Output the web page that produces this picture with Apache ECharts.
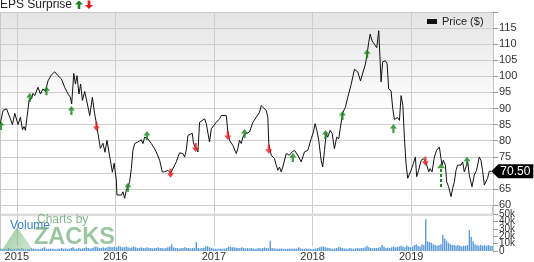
<!DOCTYPE html>
<html><head><meta charset="utf-8">
<script src="https://cdn.jsdelivr.net/npm/echarts@6/dist/echarts.min.js"></script>
<style>html,body{margin:0;padding:0;background:#fff}#c{width:534px;height:262px}</style>
</head><body><div id="c"></div>
<script>
// ---- data (x in decimal years) ----
const yearTicks = [2015, 2016, 2017, 2018, 2019];
const xMin = 2014.83, xMax = 2019.83;
const priceYears = [
2014.828,2014.861,2014.896,2014.929,2014.956,2014.980,2015.013,2015.037,2015.058,2015.074,
2015.088,2015.104,2015.125,2015.149,2015.165,2015.182,2015.216,2015.240,2015.266,2015.291,
2015.317,2015.352,2015.385,2015.418,2015.453,2015.486,2015.520,2015.544,2015.557,2015.578,
2015.595,2015.611,2015.631,2015.648,2015.666,2015.689,2015.716,2015.740,2015.767,2015.790,
2015.808,2015.824,2015.848,2015.874,2015.895,2015.915,2015.949,2015.970,2015.988,2016.010,
2016.016,2016.036,2016.061,2016.077,2016.094,2016.111,2016.145,2016.162,2016.178,2016.196,
2016.213,2016.229,2016.246,2016.263,2016.280,2016.297,2016.314,2016.330,2016.365,2016.398,
2016.415,2016.449,2016.476,2016.500,2016.533,2016.560,2016.584,2016.618,2016.634,2016.652,
2016.685,2016.702,2016.719,2016.736,2016.753,2016.780,2016.793,2016.811,2016.827,2016.837,
2016.854,2016.871,2016.905,2016.922,2016.955,2016.973,2016.989,2017.023,2017.057,2017.074,
2017.090,2017.125,2017.141,2017.158,2017.192,2017.226,2017.242,2017.259,2017.277,2017.293,
2017.310,2017.327,2017.361,2017.394,2017.429,2017.462,2017.479,2017.496,2017.530,2017.546,
2017.556,2017.581,2017.614,2017.631,2017.648,2017.665,2017.682,2017.698,2017.733,2017.766,
2017.793,2017.817,2017.834,2017.850,2017.885,2017.918,2017.952,2017.986,2018.009,2018.026,
2018.043,2018.063,2018.087,2018.103,2018.121,2018.138,2018.154,2018.178,2018.199,2018.222,
2018.245,2018.266,2018.280,2018.306,2018.333,2018.357,2018.391,2018.425,2018.442,2018.458,
2018.486,2018.509,2018.536,2018.553,2018.569,2018.584,2018.604,2018.627,2018.651,2018.671,
2018.695,2018.711,2018.739,2018.756,2018.772,2018.796,2018.813,2018.830,2018.847,2018.863,
2018.881,2018.898,2018.908,2018.916,2018.931,2018.948,2018.965,2018.982,2018.999,2019.022,
2019.043,2019.056,2019.076,2019.101,2019.124,2019.144,2019.158,2019.178,2019.192,2019.212,
2019.235,2019.258,2019.286,2019.303,2019.313,2019.326,2019.347,2019.360,2019.380,2019.404,
2019.421,2019.438,2019.455,2019.471,2019.489,2019.506,2019.522,2019.539,2019.573,2019.590,
2019.617,2019.640,2019.663,2019.691,2019.708,2019.724,2019.742,2019.759,2019.775,2019.792,
2019.813];
const prices = [
84.7,89.4,89.9,87.3,85.0,88.5,85.0,87.3,83.4,84.4,
83.2,87.3,92.5,93.0,94.7,94.0,96.6,94.5,96.1,95.3,
98.6,100.5,101.4,100.2,99.2,96.6,94.5,93.5,91.4,100.9,
97.6,100.2,94.5,97.6,92.5,95.3,91.4,87.8,93.5,88.3,
85.4,82.2,77.6,79.2,76.4,80.1,73.9,70.2,73.0,67.7,
63.1,63.6,63.1,64.1,62.1,64.6,67.2,71.3,77.0,79.1,
78.5,79.6,79.1,80.3,79.1,81.1,81.5,80.6,79.1,77.5,
76.5,73.9,70.3,70.3,70.8,69.9,71.3,73.4,74.9,76.2,
76.0,74.9,77.0,81.6,81.1,82.3,79.1,78.0,77.2,76.5,
85.7,86.3,86.8,85.3,79.6,83.7,83.2,85.7,86.8,87.8,
87.5,87.8,82.7,80.1,78.5,76.0,77.5,80.1,79.1,81.1,
81.9,81.3,82.7,85.7,87.3,88.8,90.9,91.4,89.4,87.3,
79.1,75.5,74.4,72.4,70.8,71.8,70.3,71.8,76.0,75.5,
76.5,77.0,76.5,75.5,73.4,76.5,77.0,80.6,82.7,85.3,
83.2,80.1,73.9,71.8,77.0,82.2,81.1,83.2,82.2,77.5,
81.1,80.6,83.7,88.7,90.4,93.5,97.4,102.2,102.7,101.4,
98.6,101.0,103.8,106.9,110.5,113.1,111.0,110.0,108.9,114.2,
98.3,104.5,104.8,103.9,96.1,95.5,90.0,86.6,86.3,87.2,
86.3,94.0,94.3,90.9,81.1,72.9,68.3,68.7,70.8,72.9,
74.9,68.8,70.8,73.9,74.4,73.6,72.4,70.3,71.3,70.3,
74.9,77.0,78.0,74.4,72.4,73.9,72.4,67.2,65.7,62.6,
65.2,67.2,70.8,72.4,72.9,72.4,73.4,70.3,73.4,69.3,
65.7,69.3,70.8,74.9,73.9,70.8,66.2,66.7,68.3,70.5,
70.5];
const lastPrice = 70.50;
// EPS surprise markers
const epsUpYears   = [2014.838,2015.132,2015.301,2015.554,2016.128,2016.320,2017.310,2017.800,2018.131,2018.303,2018.553,2018.820,2019.567];
const epsUpPrices  = [84.7,93.4,95.5,89.4,65.5,81.6,82.2,74.8,81.9,87.8,107.0,83.8,73.6];
const epsDownYears  = [2015.808,2016.560,2016.814,2017.141,2017.556,2019.144];
const epsDownPrices = [84.4,69.9,77.9,81.6,77.3,73.6];
const epsDashedYear = 2019.303, epsDashedTop = 72.2, epsDashedBottom = 65.4;
// weekly volume (thousands)
const volStartYear = 2014.84;
const volumes = [
3,3,2.5,3,4,3,2.5,3,3,3.5,
3,4,3,2.5,3,3,4,3.5,3,3,
2.5,3,4,5,3,3,3.5,3,3,2.5,
3,3,4,3,3.5,3,3,4,5,3,
3,4,3,3.5,4,5,4,3.5,4,5,
6,5,4,4,5,4,5,6,5,5,
6,5,7,6,5,5,6,5,4,5,
6,5,4,4,5,4,4,5,4,4,
3.5,4,4,5,4,4,3.5,4,5,6,
9,5,4,4,3.5,4,4,5,4,4,
3.5,4,4,12,4,3.5,4,4,6,6.5,
5,4,3.5,3,3,3,3.5,3,3.5,4,
6,5.5,5,5,4.5,4,4,5,4,3.5,
4,3.5,4,3.5,3,3.5,4,3.5,4,5,
4,3.5,14,4,3.5,3.5,3,3,3.5,3,
3,3,3.5,3,3.5,3,3,5,3.5,3,
3,3.5,3,3,2.5,3,3.5,4,5,6,
6,5,4.5,4,3.5,3,3.5,4,5.5,5,
4,3.5,3.5,3,4,3.5,3,3.5,4,3.5,
4,4,5,7,5,4,3.5,4,4,4.5,
5,8,6,4,4.5,4,5,6,5,5.5,
6,7,6,5,7,6,5,6,8,9,
7,6,9,8,43,13,12,11,9,8,
7,8,9,22,17,14,11,9,8,8,
7,8,7,6,7,7,8,28,19,13,
9,8,7,8,7,8,7,8,7,7];

// ---- build ----
const priceData = priceYears.map((x, i) => [x, prices[i]]);
const upData = epsUpYears.map((x, i) => [x, epsUpPrices[i]]);
const downData = epsDownYears.map((x, i) => [x, epsDownPrices[i]]);
const volData = volumes.map((v, i) => [volStartYear + i / 52, v]);
const FONT = 'Liberation Sans, Arial, sans-serif';
const GREEN = '#17851a', RED = '#f01616';
const upPath = 'path://M4,0 L8,5 L5.3,5 L5.3,10 L2.7,10 L2.7,5 L0,5 Z';
const downPath = 'path://M2.7,0 L5.3,0 L5.3,5 L8,5 L4,10 L0,5 L2.7,5 Z';
const volLabel = v => v === 0 ? '0' : v + 'k';
const volLabelStyle = {margin: 6, fontSize: 10, lineHeight: 8, color: '#333', fontFamily: FONT,
  showMinLabel: true, showMaxLabel: true, hideOverlap: false};

const chart = echarts.init(document.getElementById('c'), null, {renderer: 'canvas'});
chart.setOption({
  animation: false,
  backgroundColor: '#fff',
  title: {text: 'EPS Surprise', left: 0, top: -1, padding: 0,
    textStyle: {fontSize: 12, fontWeight: 'normal', color: '#222', fontFamily: FONT}},
  legend: {data: [{name: 'Price ($)', icon: 'rect'}], left: 427, top: 16, padding: 0,
    itemWidth: 10, itemHeight: 5, selectedMode: false,
    textStyle: {fontSize: 11, color: '#222', fontFamily: FONT}},
  grid: [
    {left: 0, right: 41, top: 12, height: 193},
    {left: 0, right: 41, top: 214, height: 37},
    {left: 0, right: 41, top: 12, height: 239}
  ],
  xAxis: [
    {gridIndex: 0, type: 'value', min: xMin, max: xMax, show: false},
    {gridIndex: 1, type: 'value', min: xMin, max: xMax, show: false},
    {gridIndex: 2, type: 'value', min: xMin, max: xMax, splitNumber: 5,
      axisLine: {show: false}, axisTick: {show: false},
      splitLine: {show: true, lineStyle: {color: '#cdcdcd', width: 1}},
      axisLabel: {showMinLabel: false, showMaxLabel: false, margin: 5, fontSize: 11, color: '#333', fontFamily: FONT,
        formatter: v => yearTicks.includes(Math.round(v)) && Math.abs(v - Math.round(v)) < 1e-6 ? String(Math.round(v)) : ''}}
  ],
  yAxis: [
    {gridIndex: 0, type: 'value', position: 'right', min: 60, max: 120, interval: 5,
      axisLine: {show: true, lineStyle: {color: '#c4c4c4'}},
      axisTick: {show: true, length: 5, lineStyle: {color: '#999'}},
      axisLabel: {margin: 6, fontSize: 11, color: '#333', fontFamily: FONT, formatter: v => v === 120 ? '' : String(v)},
      splitLine: {show: true, lineStyle: {color: '#cdcdcd'}}},
    {gridIndex: 1, type: 'value', position: 'right', min: 0, max: 50, interval: 10,
      axisLine: {show: true, lineStyle: {color: '#c4c4c4'}},
      axisTick: {show: true, length: 5, lineStyle: {color: '#999'}},
      axisLabel: Object.assign({}, volLabelStyle, {formatter: v => (v % 20 === 0 ? volLabel(v) : '')}),
      splitLine: {show: false}},
    {gridIndex: 2, type: 'value', show: false, min: 0, max: 1},
    {gridIndex: 1, type: 'value', position: 'right', min: 0, max: 50, interval: 10,
      axisLine: {show: false}, axisTick: {show: false},
      axisLabel: Object.assign({}, volLabelStyle, {formatter: v => (v % 20 === 10 ? volLabel(v) : '')}),
      splitLine: {show: false}}
  ],
  graphic: [
    {type: 'rect', z: -10, shape: {x: 0, y: 12, width: 493, height: 203},
      style: {fill: new echarts.graphic.LinearGradient(0, 0, 0, 1, [{offset: 0, color: '#e4e4e4'}, {offset: 0.5, color: '#ffffff'}, {offset: 1, color: '#ffffff'}])}},
    {type: 'rect', z: 1, shape: {x: 0, y: 213.5, width: 493, height: 2.5}, style: {fill: '#dcdcdc'}},
    {type: 'line', z: 1, shape: {x1: 0.5, y1: 12, x2: 0.5, y2: 251}, style: {stroke: '#c8c8c8', lineWidth: 1}},
    {type: 'line', z: 1, shape: {x1: 492.5, y1: 205, x2: 492.5, y2: 214}, style: {stroke: '#c4c4c4', lineWidth: 1}},
    {type: 'line', z: 1, shape: {x1: 0, y1: 12.5, x2: 493, y2: 12.5}, style: {stroke: '#c8c8c8', lineWidth: 1}},
    // title arrows
    {type: 'polygon', z: 10, shape: {points: [[79, 0.5], [83, 4.5], [80.3, 4.5], [80.3, 9], [77.7, 9], [77.7, 4.5], [75, 4.5]]}, style: {fill: GREEN}},
    {type: 'polygon', z: 10, shape: {points: [[87.7, 0.5], [90.3, 0.5], [90.3, 5], [93, 5], [89, 9], [85, 5], [87.7, 5]]}, style: {fill: RED}},
    // watermark
    {type: 'polygon', z: 20, shape: {points: [[2, 250], [17, 227], [33, 250]]},
      style: {fill: new echarts.graphic.LinearGradient(0, 0, 1, 1, [{offset: 0, color: 'rgba(70,160,80,0.55)'}, {offset: 1, color: 'rgba(150,200,150,0.45)'}])}},
    {type: 'text', z: 21, left: 10, top: 220, style: {text: 'Volume', fontSize: 12, fill: '#3f83cc', fontFamily: FONT}},
    {type: 'text', z: 21, left: 37, top: 214, style: {text: 'Charts by', fontSize: 12, fill: 'rgba(90,160,100,0.75)', fontFamily: FONT}},
    {type: 'text', z: 21, left: 34, top: 226, style: {text: 'ZACKS', fontSize: 23.5, fontWeight: 'bold', fill: 'rgba(90,160,100,0.6)', fontFamily: FONT}}
  ],
  series: [
    {name: 'Volume', type: 'bar', xAxisIndex: 1, yAxisIndex: 1, data: volData, barWidth: 1.4,
      itemStyle: {color: '#5b9ad8'}, silent: true},
    {name: 'Price ($)', type: 'line', xAxisIndex: 0, yAxisIndex: 0, data: priceData, showSymbol: false,
      symbol: 'none', color: '#111', lineStyle: {color: '#111', width: 1}, z: 3,
      markPoint: {symbol: 'path://M0,7 L7,0 L42,0 L42,14 L7,14 Z', symbolSize: [42, 14], symbolOffset: [21, 0],
        itemStyle: {color: '#000'},
        label: {show: true, position: 'inside', offset: [3, 0], color: '#fff', fontSize: 12, fontFamily: FONT, formatter: lastPrice.toFixed(2)},
        data: [{coord: [priceYears[priceYears.length - 1], lastPrice], value: lastPrice}]}},
    {name: 'epsDashStem', type: 'line', xAxisIndex: 0, yAxisIndex: 0, data: [[epsDashedYear, epsDashedTop - 1], [epsDashedYear, epsDashedBottom]],
      symbol: 'none', lineStyle: {color: GREEN, width: 2, type: [3, 2]}, z: 4},
    {name: 'epsDashHead', type: 'scatter', xAxisIndex: 0, yAxisIndex: 0, data: [[epsDashedYear, epsDashedTop]],
      symbol: 'triangle', symbolSize: [8, 5], itemStyle: {color: GREEN}, z: 5},
    {name: 'epsUp', type: 'scatter', xAxisIndex: 0, yAxisIndex: 0, data: upData, symbol: upPath, symbolSize: [7, 9],
      itemStyle: {color: GREEN}, z: 5},
    {name: 'epsDown', type: 'scatter', xAxisIndex: 0, yAxisIndex: 0, data: downData, symbol: downPath, symbolSize: [7, 9],
      itemStyle: {color: RED}, z: 5}
  ]
});
</script></body></html>
